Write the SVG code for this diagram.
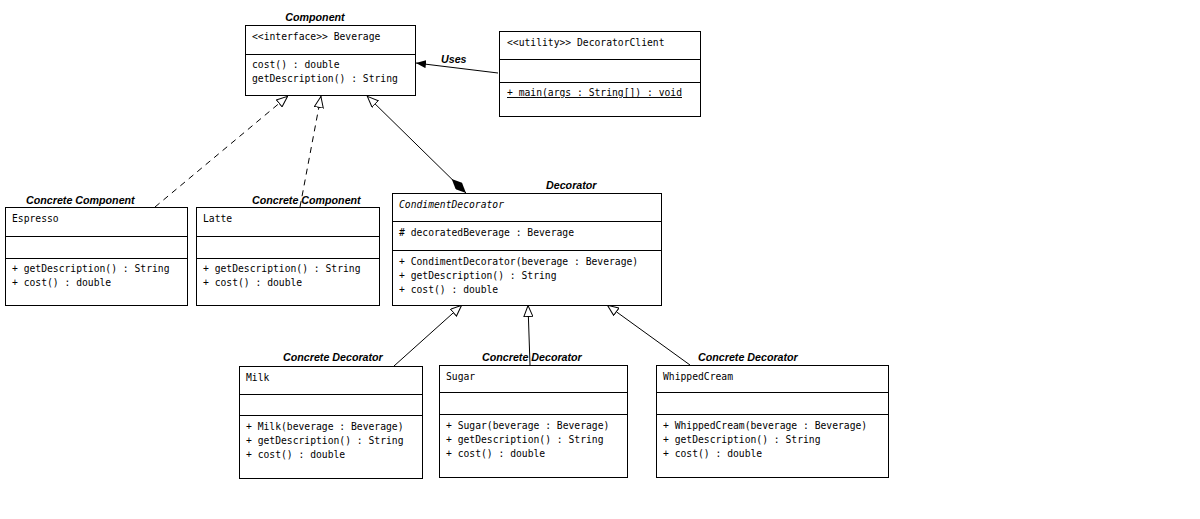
<svg xmlns="http://www.w3.org/2000/svg" width="1200" height="519" viewBox="0 0 1200 519">
<style>
.box{fill:#fff;stroke:#000;stroke-width:1}
.div{stroke:#000;stroke-width:1}
.m{font-family:"DejaVu Sans Mono","Liberation Mono",monospace;font-size:9.7px;fill:#000}
.lbl{font-family:"Liberation Sans",Arial,sans-serif;font-size:10.7px;font-weight:bold;font-style:italic;fill:#000}
.ln{fill:none;stroke:#000;stroke-width:1}
.dash{stroke-dasharray:6,5}
</style>
<defs>
<marker id="tri" viewBox="0 0 12 10" refX="12" refY="5" markerWidth="12" markerHeight="10" markerUnits="userSpaceOnUse" orient="auto"><path d="M0.5,0.5 L11.5,5 L0.5,9.5 z" fill="#fff" stroke="#000" stroke-width="1"/></marker>
<marker id="arr" viewBox="0 0 10 8" refX="10" refY="4" markerWidth="10" markerHeight="8" markerUnits="userSpaceOnUse" orient="auto"><path d="M0,0 L10,4 L0,8 z" fill="#000"/></marker>
<marker id="dia" viewBox="0 0 20 9" refX="0" refY="4.5" markerWidth="20" markerHeight="9" markerUnits="userSpaceOnUse" orient="auto"><path d="M0,4.5 L10,0 L20,4.5 L10,9 z" fill="#000"/></marker>
</defs>
<rect width="1200" height="519" fill="#fff"/>
<g id="connectors">
<path class="ln dash" d="M155,207 L288,96" marker-end="url(#tri)"/>
<path class="ln dash" d="M300,207 L321,96" marker-end="url(#tri)"/>
<path class="ln" d="M466,193 L367,96" marker-start="url(#dia)" marker-end="url(#tri)"/>
<path class="ln" d="M498,73 L416,63" stroke-width="1.5" marker-end="url(#arr)"/>
<path class="ln" d="M394,366 L462,305" marker-end="url(#tri)"/>
<path class="ln" d="M530,365 L528,305" marker-end="url(#tri)"/>
<path class="ln" d="M690,365 L607,305" marker-end="url(#tri)"/>
<text class="lbl" x="441" y="63">Uses</text>
</g>
<g id="Beverage">
<text class="lbl" x="315" y="21" text-anchor="middle">Component</text>
<rect class="box" x="245.5" y="25.5" width="170" height="70"/>
<line class="div" x1="245.5" y1="54.5" x2="415.5" y2="54.5"/>
<text class="m" x="252" y="40">&lt;&lt;interface&gt;&gt; Beverage</text>
<text class="m" x="252" y="68">cost() : double</text>
<text class="m" x="252" y="82">getDescription() : String</text>
</g>
<g id="DecoratorClient">
<rect class="box" x="499.5" y="31.5" width="201" height="85"/>
<line class="div" x1="499.5" y1="59.5" x2="700.5" y2="59.5"/>
<line class="div" x1="499.5" y1="82.5" x2="700.5" y2="82.5"/>
<text class="m" x="507" y="46">&lt;&lt;utility&gt;&gt; DecoratorClient</text>
<text class="m" x="507" y="96" text-decoration="underline">+ main(args : String[]) : void</text>
</g>
<g id="Espresso">
<text class="lbl" x="26" y="204">Concrete Component</text>
<rect class="box" x="5.5" y="207.5" width="182" height="98"/>
<line class="div" x1="5.5" y1="236.5" x2="187.5" y2="236.5"/>
<line class="div" x1="5.5" y1="258.5" x2="187.5" y2="258.5"/>
<text class="m" x="12" y="222">Espresso</text>
<text class="m" x="12" y="272">+ getDescription() : String</text>
<text class="m" x="12" y="286">+ cost() : double</text>
</g>
<g id="Latte">
<text class="lbl" x="252" y="204">Concrete Component</text>
<rect class="box" x="196.5" y="207.5" width="183" height="98"/>
<line class="div" x1="196.5" y1="236.5" x2="379.5" y2="236.5"/>
<line class="div" x1="196.5" y1="258.5" x2="379.5" y2="258.5"/>
<text class="m" x="203" y="222">Latte</text>
<text class="m" x="203" y="272">+ getDescription() : String</text>
<text class="m" x="203" y="286">+ cost() : double</text>
</g>
<g id="CondimentDecorator">
<text class="lbl" x="546" y="189">Decorator</text>
<rect class="box" x="392.5" y="193.5" width="269" height="112"/>
<line class="div" x1="392.5" y1="221.5" x2="661.5" y2="221.5"/>
<line class="div" x1="392.5" y1="250.5" x2="661.5" y2="250.5"/>
<text class="m" x="399" y="208" font-style="italic">CondimentDecorator</text>
<text class="m" x="399" y="236"># decoratedBeverage : Beverage</text>
<text class="m" x="399" y="265">+ CondimentDecorator(beverage : Beverage)</text>
<text class="m" x="399" y="279">+ getDescription() : String</text>
<text class="m" x="399" y="293">+ cost() : double</text>
</g>
<g id="Milk">
<text class="lbl" x="283" y="361">Concrete Decorator</text>
<rect class="box" x="239.5" y="366.5" width="183" height="112"/>
<line class="div" x1="239.5" y1="394.5" x2="422.5" y2="394.5"/>
<line class="div" x1="239.5" y1="415.5" x2="422.5" y2="415.5"/>
<text class="m" x="246" y="381">Milk</text>
<text class="m" x="246" y="430">+ Milk(beverage : Beverage)</text>
<text class="m" x="246" y="444">+ getDescription() : String</text>
<text class="m" x="246" y="458">+ cost() : double</text>
</g>
<g id="Sugar">
<text class="lbl" x="482" y="361">Concrete Decorator</text>
<rect class="box" x="439.5" y="365.5" width="188" height="112"/>
<line class="div" x1="439.5" y1="392.5" x2="627.5" y2="392.5"/>
<line class="div" x1="439.5" y1="414.5" x2="627.5" y2="414.5"/>
<text class="m" x="446" y="380">Sugar</text>
<text class="m" x="446" y="429">+ Sugar(beverage : Beverage)</text>
<text class="m" x="446" y="443">+ getDescription() : String</text>
<text class="m" x="446" y="457">+ cost() : double</text>
</g>
<g id="WhippedCream">
<text class="lbl" x="698" y="361">Concrete Decorator</text>
<rect class="box" x="656.5" y="365.5" width="232" height="112"/>
<line class="div" x1="656.5" y1="392.5" x2="888.5" y2="392.5"/>
<line class="div" x1="656.5" y1="414.5" x2="888.5" y2="414.5"/>
<text class="m" x="663" y="380">WhippedCream</text>
<text class="m" x="663" y="429">+ WhippedCream(beverage : Beverage)</text>
<text class="m" x="663" y="443">+ getDescription() : String</text>
<text class="m" x="663" y="457">+ cost() : double</text>
</g>
</svg>
